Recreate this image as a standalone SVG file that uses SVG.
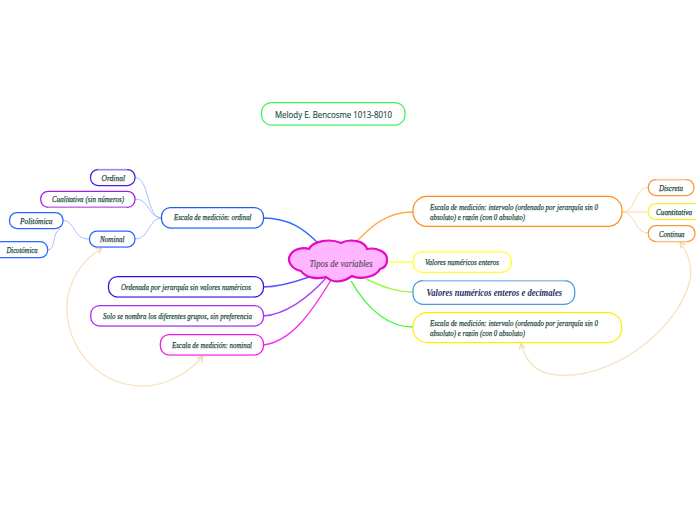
<svg xmlns="http://www.w3.org/2000/svg" width="696" height="520" viewBox="0 0 696 520">
<style>
.n{fill:#fff;stroke-width:1.25}
.e{fill:none;stroke-width:1.4;stroke-linecap:butt}
.s{fill:none;stroke:#9fb9ff;stroke-width:.9}
.r{fill:none;stroke:#f6e3c3;stroke-width:1.3}
.t{font-family:"Liberation Serif",serif;font-style:italic;font-size:9px;fill:#1d4a3f;stroke:#1d4a3f;stroke-width:.25}
.m{font-family:"Open Sans","Noto Sans",sans-serif;font-size:9.5px;fill:#1d4a3f;stroke:#1d4a3f;stroke-width:.15}
</style>
<defs>
<marker id="ah" viewBox="0 0 10 10" refX="9.5" refY="5" markerWidth="7.5" markerHeight="7.5" markerUnits="userSpaceOnUse" orient="auto-start-reverse">
<path d="M2 1 L9 5 L2 9" fill="none" stroke="#f3d9ae" stroke-width="2"/>
</marker>
</defs>
<g id="connectors">
<path class="e" stroke="#2f6bff" d="M263 218 C290 218 305 230 318 243"/>
<path class="e" stroke="#5a55ff" d="M263 287 C280 287 295 282 309 277"/>
<path class="e" stroke="#a642ff" d="M263 316 C285 315 308 298 326 278"/>
<path class="e" stroke="#f62cf0" d="M263 345 C290 342 310 315 331 280"/>
<path class="e" stroke="#ffab4a" d="M413 212 C385 212 370 228 356 242"/>
<path class="e" stroke="#ffff40" d="M387 262 H413"/>
<path class="e" stroke="#a4f542" d="M366 279 C385 288 398 292 413 292"/>
<path class="e" stroke="#45f53a" d="M351 281 C365 305 385 327 413 327"/>
<path class="s" d="M162 218 C146 218 150 178 135 177.5"/>
<path class="s" d="M162 218 C148 218 150 199 135 199"/>
<path class="s" d="M162 218 C148 218 150 239 135 239"/>
<path class="s" d="M89 239 C72 239 76 221 63 220.5"/>
<path class="s" d="M60 229 C52 232 56 250 48 250"/>
<path fill="none" stroke="#fbcf9c" stroke-width=".9" d="M622 212 C636 212 634 188 648 187.5"/>
<path fill="none" stroke="#fde9b8" stroke-width="1.6" d="M622 212 H648"/>
<path fill="none" stroke="#fbcf9c" stroke-width=".9" d="M622 212 C636 212 634 233 648 233"/>
<path class="r" marker-start="url(#ah)" marker-end="url(#ah)" d="M203 356 C185 378 160 386 143 386 C100 386 67 350 67 307 C67 280 85 258 102 248"/>
<path class="r" marker-start="url(#ah)" marker-end="url(#ah)" d="M680 242 C690 255 692 270 690 280 C680 325 620 375 565 375.3 C540 376 526 365 521 343.5"/>
</g>
<g id="title"><rect class="n" stroke="#45f060" x="261.5" y="102.5" width="143.5" height="22.5" rx="10"/><text class="m" x="275" y="117.5" textLength="117" lengthAdjust="spacingAndGlyphs">Melody E. Bencosme 1013-8010</text></g>
<g id="root"><path d="M301 271 C291 269 286 260 291 254 C294 249 303 247 309 249 C313 241 330 238 341 243 C350 238 365 241 367 249 C376 247 388 252 387 260 C387 265 384 268 380 269 C376 277 360 280 352 276 C342 283 333 283 326 277 C316 280 305 277 301 271 Z" fill="#ffb5ff" stroke="#e40cc4" stroke-width="2.2"/><text x="309.5" y="267" textLength="63" lengthAdjust="spacingAndGlyphs" style="font-family:'Liberation Serif',serif;font-style:italic;font-size:11px;fill:#5a4a5a;stroke:#5a4a5a;stroke-width:.2">Tipos de variables</text></g>
<g id="n-ordinal-leaf"><rect class="n" stroke="#4a1fe0" x="90.5" y="169.5" width="44.5" height="16" rx="7.5"/><path stroke="#9a85f5" stroke-width="1.25" d="M98 169.5 H127"/><text class="t" x="101.5" y="180.5" textLength="23.5" lengthAdjust="spacingAndGlyphs">Ordinal</text></g>
<g id="n-cualitativa"><rect class="n" stroke="#a020e8" x="40.7" y="191.3" width="94.3" height="16" rx="7.5"/><path stroke="#c878f2" stroke-width="1.25" d="M48 207.3 H127"/><text class="t" x="52" y="202" textLength="72" lengthAdjust="spacingAndGlyphs">Cualitativa (sin números)</text></g>
<g id="n-ordinal"><rect class="n" stroke="#1f5cf0" x="161.5" y="207.5" width="102" height="20.5" rx="9"/><path stroke="#75a0ff" stroke-width="1.25" d="M170 228 H255"/><text class="t" x="174" y="220" textLength="77.5" lengthAdjust="spacingAndGlyphs">Escala de medición: ordinal</text></g>
<g id="n-politomica"><rect class="n" stroke="#2a66ff" x="9.5" y="212.5" width="53.5" height="16" rx="7.5"/><text class="t" x="20" y="223.5" textLength="32.5" lengthAdjust="spacingAndGlyphs">Politómica</text></g>
<g id="n-dicotomica"><rect class="n" stroke="#2a66ff" x="-6" y="241.7" width="53.7" height="16" rx="7.5"/><text class="t" x="6.5" y="253" textLength="31" lengthAdjust="spacingAndGlyphs">Dicotómica</text></g>
<g id="n-nominal"><rect class="n" stroke="#2a66ff" x="89.5" y="231" width="45.5" height="16" rx="7.5"/><path stroke="#7ea3ff" stroke-width="1.25" d="M97 247 H127"/><text class="t" x="100" y="242" textLength="24.5" lengthAdjust="spacingAndGlyphs">Nominal</text></g>
<g id="n-ordenada"><rect class="n" stroke="#3010e0" x="108.5" y="276.5" width="155" height="20.5" rx="9"/><path stroke="#8f7cf2" stroke-width="1.25" d="M117 297 H255"/><text class="t" x="121" y="290" textLength="130" lengthAdjust="spacingAndGlyphs">Ordenada por jerarquía sin valores numéricos</text></g>
<g id="n-solo"><rect class="n" stroke="#a52cf0" x="90.7" y="305.5" width="172.8" height="20.5" rx="9"/><path stroke="#bd78f6" stroke-width="1.25" d="M99 326 H255"/><text class="t" x="103" y="318.5" textLength="149" lengthAdjust="spacingAndGlyphs">Solo se nombra los diferentes grupos, sin preferencia</text></g>
<g id="n-nominal-escala"><rect class="n" stroke="#f018e0" x="160.3" y="334.5" width="103.2" height="20.5" rx="9"/><path stroke="#ff78f2" stroke-width="1.25" d="M169 355 H255"/><text class="t" x="172" y="347.5" textLength="80" lengthAdjust="spacingAndGlyphs">Escala de medición: nominal</text></g>
<g id="n-intervalo-1"><rect class="n" stroke="#ff8c1a" x="413" y="196.3" width="209" height="30" rx="14"/><text class="t" x="430" y="209.5" textLength="168" lengthAdjust="spacingAndGlyphs">Escala de medición: intervalo (ordenado por jerarquía sin 0</text><text class="t" x="430" y="220" textLength="95" lengthAdjust="spacingAndGlyphs">absoluto) e razón (con 0 absoluto)</text></g>
<g id="n-enteros"><rect class="n" stroke="#ffff28" x="413" y="251.8" width="98.3" height="20.5" rx="9"/><text class="t" x="425" y="265" textLength="74" lengthAdjust="spacingAndGlyphs">Valores numéricos enteros</text></g>
<g id="n-decimales"><rect class="n" stroke="#4b9bdc" x="413" y="280.5" width="161.7" height="23.8" rx="10"/><path stroke="#93c3ea" stroke-width="1.25" d="M423 280.5 H565"/><text x="426.5" y="295.5" textLength="135.5" lengthAdjust="spacingAndGlyphs" style="font-family:'Liberation Serif',serif;font-style:italic;font-weight:bold;font-size:11px;fill:#1c2f5e">Valores numéricos enteros e decimales</text></g>
<g id="n-intervalo-2"><rect class="n" stroke="#ffee00" x="413" y="312.5" width="208.7" height="30" rx="14"/><text class="t" x="430" y="325.7" textLength="168" lengthAdjust="spacingAndGlyphs">Escala de medición: intervalo (ordenado por jerarquía sin 0</text><text class="t" x="430" y="336" textLength="95" lengthAdjust="spacingAndGlyphs">absoluto) e razón (con 0 absoluto)</text></g>
<g id="n-discreta"><rect class="n" stroke="#f59a3a" x="648.3" y="179.5" width="45.7" height="16" rx="7.5"/><path stroke="#fac593" stroke-width="1.25" d="M656 179.5 H686"/><text class="t" x="659" y="190.5" textLength="24" lengthAdjust="spacingAndGlyphs">Discreta</text></g>
<g id="n-cuantitativa"><rect class="n" stroke="#ffee30" x="648.3" y="203.5" width="58" height="16" rx="7.5"/><text class="t" x="656" y="214.5" style="font-size:8px" textLength="36" lengthAdjust="spacingAndGlyphs">Cuantitativa</text></g>
<g id="n-continua"><rect class="n" stroke="#f59a3a" x="648.3" y="225.5" width="46.7" height="16" rx="7.5"/><path stroke="#fac593" stroke-width="1.25" d="M656 241.5 H687"/><text class="t" x="659" y="236.5" textLength="25.5" lengthAdjust="spacingAndGlyphs">Continua</text></g>
</svg>
